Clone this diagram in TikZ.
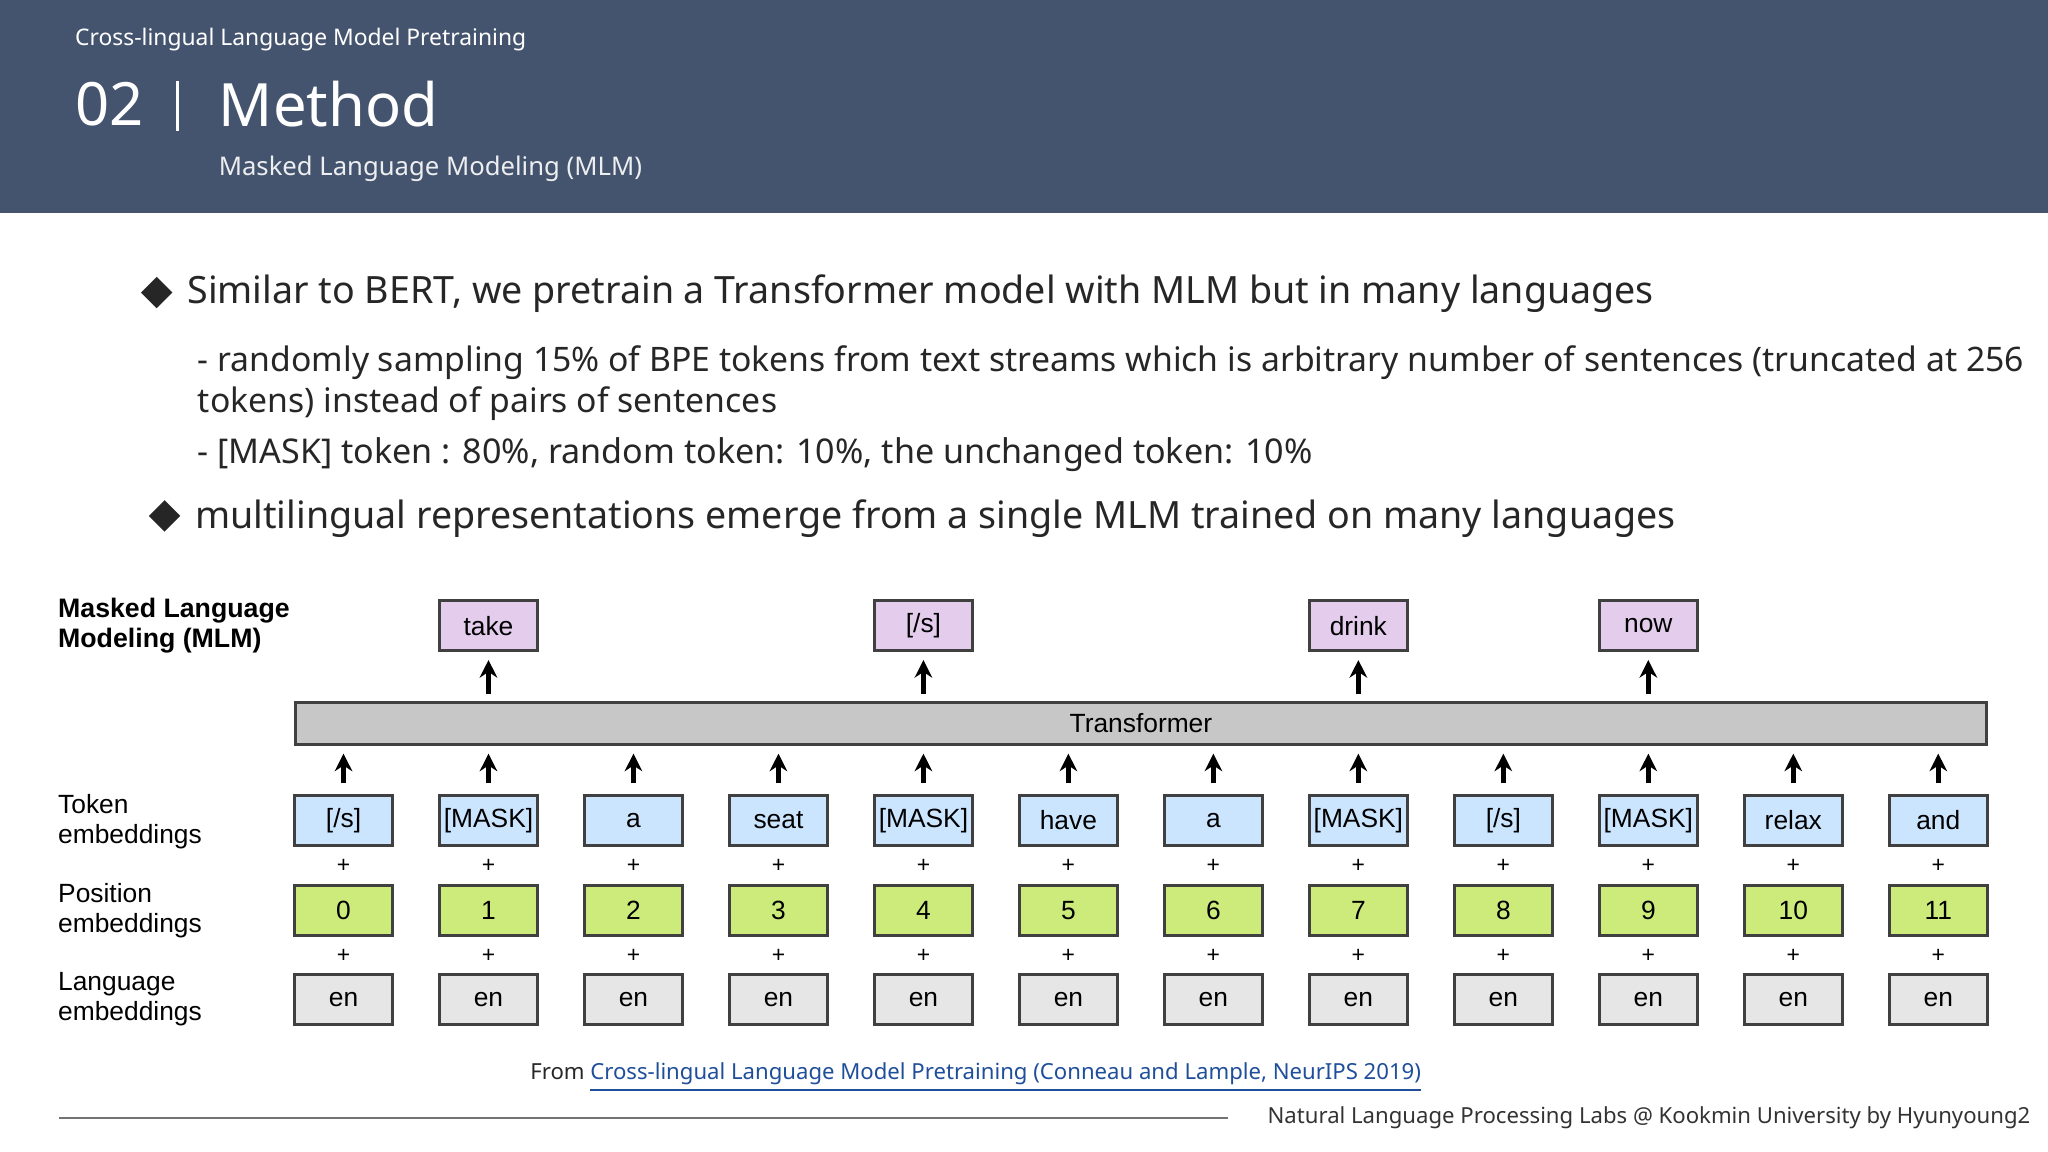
\documentclass[tikz,border=0pt]{standalone}
\usepackage{fontspec}
\setmainfont{Noto Sans}
\newfontfamily\arialf{Liberation Sans}
\usetikzlibrary{arrows.meta}
\definecolor{hdr}{HTML}{45546E}
\definecolor{tokc}{HTML}{CCE5FF}
\definecolor{posc}{HTML}{CCEB7A}
\definecolor{lanc}{HTML}{E6E6E6}
\definecolor{outc}{HTML}{E3CCEC}
\definecolor{linkc}{HTML}{1F4E9A}
\begin{document}
\begin{tikzpicture}[x=0.01306cm,y=-0.01306cm,
  box/.style={draw=black!75,line width=0.8pt,minimum width=0.98cm,minimum height=0.5cm,inner sep=0pt,font=\arialf\fontsize{7.5}{8}\selectfont},
  tokbox/.style={box,fill=tokc},
  posbox/.style={box,fill=posc},
  lanbox/.style={box,fill=lanc},
  outbox/.style={box,fill=outc},
  arr/.style={line width=1.3pt,-{Stealth[length=5pt,width=5pt]}},
  lbl/.style={anchor=west,align=left,font=\arialf\fontsize{7.5}{8.6}\selectfont,inner sep=0pt},
  plus/.style={font=\arialf\fontsize{6.5}{7}\selectfont,inner sep=0pt},
  dia/.style={fill=black!85}]
\useasboundingbox (0,0) rectangle (1568,882);
\fill[hdr] (0,0) rectangle (1568,163);
\node[anchor=west,text=white,font=\fontsize{6.5}{8}\selectfont,inner sep=0pt] (t1) at (57,30) {Cross-lingual Language Model Pretraining};
\node[anchor=west,text=white,font=\fontsize{17}{20}\selectfont,inner sep=0pt] (t2) at (57,80) {02};
\draw[white,line width=0.8pt] (136,62) -- (136,100);
\node[anchor=west,text=white,font=\fontsize{17}{20}\selectfont,inner sep=0pt] (t3) at (167,80) {Method};
\node[anchor=west,text=white!90!hdr,font=\fontsize{7.3}{9}\selectfont,inner sep=0pt] (t4) at (167,129) {Masked Language Modeling (MLM)};
% bullets
\fill[dia] (108,224) -- (120,212) -- (132,224) -- (120,236) -- cycle;
\node[anchor=west,font=\fontsize{10.7}{13}\selectfont,inner sep=0pt,text=black!85] (b1) at (143,225) {Similar to BERT, we pretrain a Transformer model with MLM but in many languages};
\node[anchor=north west,align=left,font=\fontsize{9.6}{11.6}\selectfont,inner sep=0pt,text=black!85] (b2) at (151,264) {- randomly sampling 15\% of BPE tokens from text streams which is arbitrary number of sentences (truncated at 256\\tokens) instead of pairs of sentences};
\node[anchor=west,font=\fontsize{9.7}{12}\selectfont,inner sep=0pt,text=black!85] (b3) at (151,348) {- [MASK] token : 80\%, random token: 10\%, the unchanged token: 10\%};
\fill[dia] (114,395) -- (126,383) -- (138,395) -- (126,407) -- cycle;
\node[anchor=west,font=\fontsize{10.7}{13}\selectfont,inner sep=0pt,text=black!85] (b4) at (149,397) {multilingual representations emerge from a single MLM trained on many languages};
% diagram labels
\node[lbl,font=\arialf\bfseries\fontsize{7.6}{8.6}\selectfont] (l0) at (44,479) {Masked Language\\Modeling (MLM)};
\node[lbl] (l1) at (44,629) {Token\\embeddings};
\node[lbl] (l2) at (44,697) {Position\\embeddings};
\node[lbl] (l3) at (44,765) {Language\\embeddings};
\node[draw=black!75,line width=0.8pt,fill=black!22,minimum width=16.91cm,minimum height=0.42cm,inner sep=0pt,font=\arialf\fontsize{7.5}{8}\selectfont] (tr) at (873.5,554) {Transformer};
\foreach \i/\t in {0/{[/s]},1/{[MASK]},2/a,3/seat,4/{[MASK]},5/have,6/a,7/{[MASK]},8/{[/s]},9/{[MASK]},10/relax,11/and}{
  \pgfmathsetmacro{\xx}{263+111*\i}
  \node[tokbox] (k\i) at (\xx,628) {\t};
  \node[posbox] (p\i) at (\xx,697) {\i};
  \node[lanbox] (g\i) at (\xx,765) {en};
  \node[plus] (pa\i) at (\xx,663) {+};
  \node[plus] (pb\i) at (\xx,732) {+};
  \coordinate (ab\i) at (\xx,577);
  \draw[arr] (k\i.north) ++(0,-8) -- (ab\i);
}
\foreach \i/\t in {1/take,4/{[/s]},7/drink,9/now}{
  \pgfmathsetmacro{\xx}{263+111*\i}
  \node[outbox] (o\i) at (\xx,479) {\t};
  \draw[arr] (\xx,531) -- ([yshift=-0.08cm]o\i.south);
}
% footer
\node[font=\fontsize{6.3}{8}\selectfont,inner sep=0pt,text=black!85] (src) at (747,825) {From \textcolor{linkc}{\underline{Cross-lingual Language Model Pretraining (Conneau and Lample, NeurIPS 2019)}}};
\draw[black!55,line width=0.5pt] (45,856) -- (940,856);
\node[anchor=east,font=\fontsize{6.3}{8}\selectfont,inner sep=0pt,text=black!80] (ft) at (1555,856) {Natural Language Processing Labs @ Kookmin University by Hyunyoung2};
\end{tikzpicture}
\end{document}
